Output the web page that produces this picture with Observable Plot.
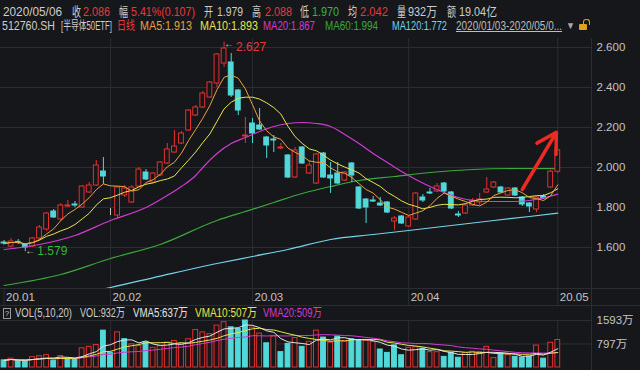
<!DOCTYPE html>
<html><head><meta charset="utf-8">
<script src="https://cdn.jsdelivr.net/npm/d3@7"></script>
<script src="https://cdn.jsdelivr.net/npm/@observablehq/plot@0.6"></script>
<style>
html,body{margin:0;padding:0;background:#16171b;overflow:hidden}
#root{position:relative;width:640px;height:370px;background:#16171b;font-family:"Liberation Sans",Arial,"Noto Sans CJK SC",sans-serif;color:#cfcfcf;overflow:hidden}
.t{position:absolute;white-space:nowrap;font-size:11.5px;line-height:14px;transform-origin:0 50%}
.abs{position:absolute}
</style></head><body><div id="root"></div><script>
// ---------------- DATA ----------------
const tradingDays = ["01-03","01-06","01-07","01-08","01-09","01-10","01-13","01-14","01-15","01-16","01-17","01-20","01-21","01-22","01-23",
"02-03","02-04","02-05","02-06","02-07","02-10","02-11","02-12","02-13","02-14","02-17","02-18","02-19","02-20","02-21","02-24","02-25","02-26","02-27","02-28",
"03-02","03-03","03-04","03-05","03-06","03-09","03-10","03-11","03-12","03-13","03-16","03-17","03-18","03-19","03-20","03-23","03-24","03-25","03-26","03-27","03-30","03-31",
"04-01","04-02","04-03","04-07","04-08","04-09","04-10","04-13","04-14","04-15","04-16","04-17","04-20","04-21","04-22","04-23","04-24","04-27","04-28","04-29","04-30",
"05-06"];
const monthLabels = ["20.01","20.02","20.03","20.04","20.05"];
const open  = [1.625,1.605,1.628,1.615,1.605,1.645,1.69,1.78,1.74,1.805,1.815,1.80,1.875,1.91,1.98,
1.76,1.76,1.86,1.825,1.905,1.975,1.925,1.96,2.02,2.075,2.12,2.185,2.26,2.30,2.35,2.42,2.52,2.525,2.385,2.155,
2.22,2.21,2.15,2.14,2.095,2.06,1.95,2.10,1.97,1.92,2.07,1.96,1.97,1.935,2.02,1.90,1.84,1.835,1.82,1.825,1.73,1.755,
1.705,1.74,1.85,1.875,1.88,1.92,1.875,1.765,1.77,1.81,1.825,1.875,1.90,1.90,1.86,1.895,1.85,1.82,1.79,1.855,1.90,
1.979];
const high  = [1.635,1.645,1.64,1.62,1.65,1.71,1.775,1.79,1.82,1.835,1.83,1.91,1.925,2.035,2.05,
1.795,1.905,1.91,1.91,2.0,1.99,1.975,2.03,2.12,2.185,2.18,2.29,2.31,2.38,2.43,2.57,2.627,2.57,2.39,2.25,
2.245,2.295,2.155,2.16,2.12,2.065,2.10,2.105,2.03,2.07,2.075,2.025,2.025,1.98,2.025,1.905,1.845,1.855,1.85,1.83,1.755,1.76,
1.755,1.875,1.865,1.895,1.92,1.925,1.88,1.78,1.815,1.845,1.87,1.95,1.93,1.905,1.90,1.90,1.855,1.825,1.855,1.865,1.985,
2.088];
const low   = [1.612,1.60,1.615,1.579,1.60,1.64,1.68,1.745,1.73,1.80,1.80,1.795,1.87,1.905,1.915,
1.76,1.745,1.85,1.82,1.90,1.935,1.92,1.955,2.015,2.07,2.115,2.18,2.255,2.295,2.345,2.40,2.50,2.35,2.26,2.12,
2.12,2.185,2.045,2.075,2.09,1.945,1.945,2.015,1.965,1.915,1.945,1.87,1.915,1.93,1.925,1.79,1.72,1.825,1.805,1.77,1.685,1.715,
1.70,1.735,1.825,1.865,1.875,1.875,1.79,1.75,1.765,1.805,1.81,1.87,1.895,1.87,1.855,1.855,1.805,1.775,1.775,1.84,1.895,
1.970];
const close = [1.62,1.63,1.625,1.60,1.645,1.70,1.77,1.75,1.81,1.81,1.81,1.905,1.91,2.01,1.955,
1.76,1.90,1.895,1.90,1.99,1.94,1.97,2.025,2.09,2.105,2.17,2.285,2.30,2.37,2.425,2.565,2.595,2.36,2.285,2.16,
2.17,2.19,2.11,2.135,2.10,1.95,2.085,2.02,2.01,2.065,1.95,1.945,1.92,1.975,1.96,1.795,1.80,1.83,1.81,1.775,1.745,1.72,
1.75,1.87,1.835,1.87,1.905,1.88,1.795,1.76,1.81,1.835,1.84,1.89,1.925,1.875,1.895,1.86,1.815,1.805,1.85,1.845,1.979,
2.086];
// volume, 万
const volume = [242,300,220,230,350,380,420,230,390,300,270,650,700,760,1250,
500,1190,960,785,726,842,668,726,842,900,785,958,1270,1188,1130,1420,1535,1362,1305,1593,
1350,1150,820,1050,520,800,1000,700,870,1250,1015,842,1050,900,958,924,900,865,610,495,750,415,
668,690,640,520,520,360,495,330,495,530,520,700,320,450,420,360,335,370,745,300,838,
932];
// 1 = red (close >= previous close), 0 = cyan
const volUp = [0,1,0,0,1,1,1,0,1,0,0,1,1,1,0,
0,1,0,1,1,0,1,1,1,1,1,1,1,1,1,1,1,0,0,0,
1,1,0,1,0,0,1,0,1,1,0,1,0,1,0,0,1,1,0,0,0,0,
1,1,0,1,1,0,0,0,1,1,1,1,1,0,1,0,0,0,1,0,1,
1];
// moving averages (index -> value)
const ma20Idx = [0,5,10,15,20,23,25,27,28,30,32,34,36,38,40,42,44,46,48,50,52,54,56,58,60,62,64,66,68,70,72,74,76,78];
const ma20Val = [1.59,1.615,1.66,1.735,1.80,1.86,1.905,1.96,2.0,2.07,2.12,2.15,2.18,2.205,2.22,2.225,2.22,2.205,2.165,2.12,2.07,2.025,1.98,1.94,1.905,1.875,1.85,1.835,1.83,1.83,1.83,1.835,1.848,1.867];
const ma60Idx = [0,8,15,22,30,34,38,42,46,50,55,60,66,72,78];
const ma60Val = [1.41,1.465,1.545,1.615,1.735,1.78,1.825,1.87,1.905,1.935,1.955,1.975,1.99,1.995,1.994];
const ma120Idx = [13,15,22,30,35,40,46,52,57,63,69,74,78];
const ma120Val = [1.385,1.40,1.457,1.52,1.555,1.59,1.64,1.665,1.685,1.71,1.735,1.755,1.772];
const priceTicks = [1.6,1.8,2.0,2.2,2.4,2.6];
const volTicks = [797,1593];
const maLegend = [["MA5",1.913],["MA10",1.893],["MA20",1.867],["MA60",1.994],["MA120",1.772]];
const annot = [{i1:73.0,p1:1.89,i2:77.8,p2:2.176}];
const avgPrice = 2.042, turnover = "19.04亿";

// ---------------- STYLE ----------------
const BG="#16171b", GRID="#2c2d32", RED="#e2302f", CYAN="#52d8d8", FLAT="#c8c8c8";
const TXT="#cdcdcd", TRED="#e8383d", TGREEN="#35b53b";
const MAC=["#eca23c","#e6e64a","#d23ad2","#3aa83a","#74d4ea"];
const VC=["#e4e4e4","#e6e64a","#d23ad2"];
const FONT='"Liberation Sans",Arial,"Noto Sans CJK SC",sans-serif';
const root=document.getElementById("root");

const N=close.length;
const bars=d3.range(N).map(i=>({i,o:open[i],h:high[i],l:low[i],c:close[i],v:volume[i],up:volUp[i]}));
const monthStarts=[]; tradingDays.forEach((d,i)=>{ if(i===0||d.slice(0,2)!==tradingDays[i-1].slice(0,2)) monthStarts.push(i); });
const monthTicks=monthStarts.map((i,k)=>({i,label:monthLabels[k]}));
const inner=monthStarts.filter(i=>i>0);
const XD=[-0.493,82.75];
const dirColor=d=>d.c>d.o?RED:d.c<d.o?CYAN:FLAT;
const HW=0.34;

function place(el,top,left){el.style.position="absolute";el.style.top=top+"px";el.style.left=left+"px";root.appendChild(el);return el;}
// text fitted horizontally into [x0,x1]
function txt(x0,x1,yc,s,color,size,extra){
  const d=document.createElement("div");d.className="t";d.textContent=s;d.style.color=color;
  d.style.fontSize=size+"px";d.style.left=x0+"px";d.style.top=(yc-7)+"px";if(extra)Object.assign(d.style,extra);
  root.appendChild(d);
  const w=d.getBoundingClientRect().width;
  if(x1&&w>0){d.style.transform="scaleX("+((x1-x0)/w).toFixed(3)+")";}
  return d;
}

// ---------------- HEADER ----------------
const last=bars[N-1], prevC=close[N-2];
const chg=last.c-prevC, pct=chg/prevC*100;
const f3=d3.format(".3f");
[[3,62,"2020/"+tradingDays[N-1].replace("-","/"),TXT],[72,81,"收",TXT],[83,110,f3(last.c),TRED],[119,128,"幅",TXT],
 [131,195,pct.toFixed(2)+"%("+f3(chg)+")",TRED],[204,213,"开",TXT],[217,243,f3(last.o),TXT],[252,261,"高",TXT],[265,292,f3(last.h),TRED],
 [300,309,"低",TXT],[312,339,f3(last.l),TGREEN],[348,357,"均",TXT],[360,388,f3(avgPrice),TRED],[397,406,"量",TXT],[408,437,last.v+"万",TXT],
 [447,456,"额",TXT],[459,497,turnover,TXT]].forEach(([a,b,s,c])=>txt(a,b,12,s,c,13));
[[2,55,"512760.SH",TXT],[61,112,"[半导体50ETF]",TXT],[117,135,"日线",TRED]].forEach(([a,b,s,c])=>txt(a,b,26,s,c,12));
[[140,192],[200,258],[263,315],[325,378],[392,447]].forEach(([a,b],k)=>txt(a,b,26,maLegend[k][0]+":"+f3(maLegend[k][1]),MAC[k],12));
txt(456,562,26,"2020/01/03-2020/05/0...","#bdbdbd",12,{textDecoration:"underline"});
txt(566,575,26,"▼","#a8a8a8",10);
const lock=document.createElement("div");lock.className="abs";lock.style.cssText="left:579px;top:24px;width:8px;height:6px;background:#e0a020;border-radius:1px";root.appendChild(lock);
const lk2=document.createElement("div");lk2.className="abs";lk2.style.cssText="left:583px;top:19px;width:5px;height:5px;border:1.5px solid #e0a020;border-bottom:none;border-radius:3px 3px 0 0";root.appendChild(lk2);

// ---------------- PRICE PANEL ----------------
const hiBar=d3.greatest(bars,d=>d.h), loBar=d3.least(bars,d=>d.l);
const price=Plot.plot({
  width:640,height:250,marginLeft:0,marginRight:49,marginTop:0,marginBottom:0,
  style:{background:"transparent",color:"#c4c4c4",fontSize:"11.5px",fontFamily:FONT},
  x:{domain:XD,axis:null},
  y:{domain:[1.395,2.645],axis:"right",ticks:priceTicks,tickFormat:d3.format(".3f"),tickSize:0,tickPadding:5,label:null},
  marks:[
    Plot.ruleY(priceTicks,{stroke:GRID}),
    Plot.ruleX(inner,{stroke:GRID}),
    Plot.line(ma120Idx.map((i,k)=>({i,v:ma120Val[k]})),{x:"i",y:"v",stroke:MAC[4],strokeWidth:1.2,curve:"monotone-x",clip:true}),
    Plot.line(ma60Idx.map((i,k)=>({i,v:ma60Val[k]})),{x:"i",y:"v",stroke:MAC[3],strokeWidth:1.2,curve:"monotone-x",clip:true}),
    Plot.ruleX(bars,{x:"i",y1:"l",y2:"h",stroke:dirColor,strokeWidth:1}),
    Plot.rect(bars,{x1:d=>d.i-HW,x2:d=>d.i+HW,y1:"o",y2:"c",fill:d=>d.c>d.o?BG:dirColor(d),stroke:dirColor,strokeWidth:1}),
    Plot.line(ma20Idx.map((i,k)=>({i,v:ma20Val[k]})),{x:"i",y:"v",stroke:MAC[2],strokeWidth:1.2,curve:"monotone-x"}),
    Plot.lineY(bars,Plot.windowY({k:10,anchor:"end"},{x:"i",y:"c",stroke:MAC[1],strokeWidth:1})),
    Plot.lineY(bars,Plot.windowY({k:5,anchor:"end"},{x:"i",y:"c",stroke:MAC[0],strokeWidth:1})),
    Plot.text([hiBar],{x:"i",y:"h",text:()=>"←",dx:0,dy:2,textAnchor:"start",fill:"#d8d8d8",fontSize:10}),
    Plot.text([hiBar],{x:"i",y:"h",text:d=>f3(d.h),dx:12,dy:5,textAnchor:"start",fill:TRED,fontSize:12}),
    Plot.text([loBar],{x:"i",y:"l",text:()=>"←",dx:0,dy:-1,textAnchor:"start",fill:"#d8d8d8",fontSize:10}),
    Plot.text([loBar],{x:"i",y:"l",text:d=>f3(d.l),dx:12,dy:-1,textAnchor:"start",fill:TGREEN,fontSize:12}),
    Plot.arrow(annot,{x1:"i1",y1:"p1",x2:"i2",y2:"p2",stroke:"#ee2a22",strokeWidth:3.5,headLength:12,headAngle:60})
  ]
});
place(price,38,0);

// ---------------- DATE ROW ----------------
const dateRow=Plot.plot({
  width:640,height:17,marginLeft:0,marginRight:49,marginTop:0,marginBottom:0,
  style:{background:"transparent",color:"#c4c4c4",fontSize:"11.5px",fontFamily:FONT},
  x:{domain:XD,axis:null},
  marks:[
    Plot.ruleX(monthStarts,{stroke:GRID}),
    Plot.text(monthTicks,{x:"i",text:"label",dx:2,textAnchor:"start",fill:"#c4c4c4",fontSize:11.5})
  ]
});
place(dateRow,288,0);
const hl1=document.createElement("div");hl1.className="abs";hl1.style.cssText="left:0;top:288px;width:640px;height:1px;background:"+GRID;root.appendChild(hl1);
const hl2=document.createElement("div");hl2.className="abs";hl2.style.cssText="left:0;top:305px;width:640px;height:1px;background:"+GRID;root.appendChild(hl2);

// ---------------- VOLUME LEGEND ----------------
const q=document.createElement("div");q.className="abs";q.textContent="?";q.style.cssText="left:3px;top:308px;width:6px;height:9px;border:1px solid #9a9a9a;color:#cfcfcf;font-size:8px;line-height:9px;text-align:center;font-family:Arial";root.appendChild(q);
const vma=k=>Math.round(d3.mean(volume.slice(N-k)));
txt(15,72,313,"VOL(5,10,20)",TXT,12);
txt(80,125,313,"VOL:"+last.v+"万",TXT,12);
txt(133,188,313,"VMA5:"+vma(5)+"万",VC[0],12);
txt(195,257,313,"VMA10:"+vma(10)+"万",VC[1],12);
txt(263,322,313,"VMA20:"+vma(20)+"万",VC[2],12);

// ---------------- VOLUME PANEL ----------------
const vol=Plot.plot({
  width:640,height:54,marginLeft:0,marginRight:49,marginTop:4,marginBottom:3,
  style:{background:"transparent",color:"#c4c4c4",fontSize:"11.5px",fontFamily:FONT,overflow:"visible"},
  x:{domain:XD,axis:null},
  y:{domain:[0,volTicks[1]],axis:"right",ticks:volTicks,tickFormat:d=>d+"万",tickSize:0,tickPadding:5,label:null},
  marks:[
    Plot.ruleY(volTicks,{stroke:GRID}),
    Plot.ruleX(inner,{stroke:GRID}),
    Plot.rect(bars,{x1:d=>d.i-HW,x2:d=>d.i+HW,y1:0,y2:"v",fill:d=>d.up?BG:CYAN,stroke:d=>d.up?RED:CYAN,strokeWidth:1}),
    Plot.lineY(bars,Plot.windowY({k:20,anchor:"end"},{x:"i",y:"v",stroke:VC[2],strokeWidth:1})),
    Plot.lineY(bars,Plot.windowY({k:10,anchor:"end"},{x:"i",y:"v",stroke:VC[1],strokeWidth:1})),
    Plot.lineY(bars,Plot.windowY({k:5,anchor:"end"},{x:"i",y:"v",stroke:VC[0],strokeWidth:1}))
  ]
});
place(vol,316,0);

// separator at right of plot area
const vs=document.createElement("div");vs.className="abs";vs.style.cssText="left:591px;top:38px;width:1px;height:332px;background:"+GRID;root.appendChild(vs);
</script></body></html>
